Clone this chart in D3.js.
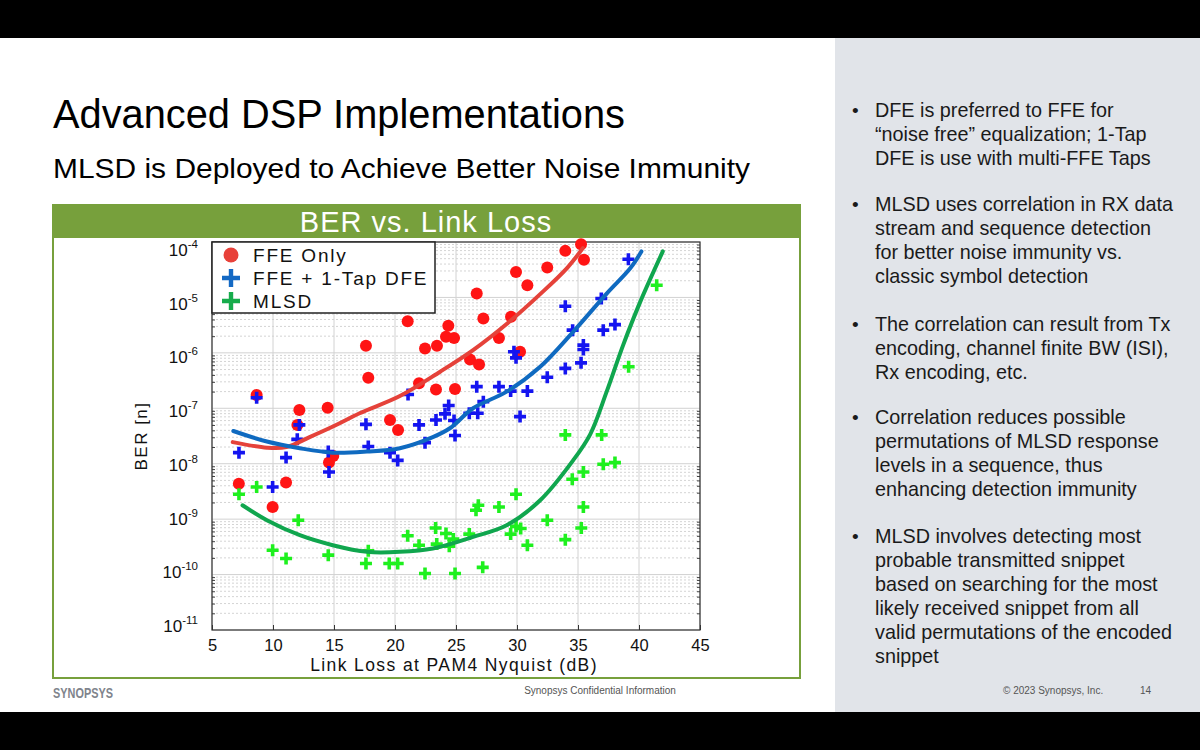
<!DOCTYPE html>
<html>
<head>
<meta charset="utf-8">
<script src="https://cdn.jsdelivr.net/npm/d3@7"></script>
<style>
	body { margin: 0; background: #000; }
	svg { display: block; font-family: 'Liberation Sans', Arial, sans-serif; }
</style>
</head>
<body>
<svg id="slide" width="1200" height="750"></svg>
<script>
// Measured points, [link loss dB, log10(BER)]
const ffeOnly = [
	[ 7.2, -8.36 ], [ 8.66, -6.76 ], [ 9.97, -8.78 ], [ 11.07, -8.34 ], [ 12.0, -7.30 ],
	[ 12.16, -7.03 ], [ 14.48, -6.99 ], [ 14.59, -7.98 ], [ 14.94, -7.86 ], [ 17.62, -5.87 ],
	[ 17.81, -6.45 ], [ 19.59, -7.21 ], [ 20.25, -7.39 ], [ 21.04, -5.43 ], [ 21.97, -6.55 ],
	[ 22.46, -5.92 ], [ 23.36, -6.66 ], [ 23.44, -5.87 ], [ 24.18, -5.71 ], [ 24.37, -5.51 ],
	[ 24.84, -5.73 ], [ 24.92, -6.65 ], [ 26.15, -6.12 ], [ 26.70, -4.93 ], [ 26.89, -6.21 ],
	[ 27.24, -5.38 ], [ 28.52, -5.73 ], [ 29.51, -5.35 ], [ 29.92, -4.54 ], [ 30.25, -5.98 ],
	[ 30.85, -4.78 ], [ 32.48, -4.46 ], [ 33.96, -4.16 ], [ 35.25, -4.04 ], [ 35.49, -4.32 ],
];
const ffeDfe = [
	[ 7.21, -7.80 ], [ 8.66, -6.81 ], [ 9.97, -8.42 ], [ 11.07, -7.89 ], [ 11.99, -7.56 ],
	[ 12.16, -7.30 ], [ 14.53, -7.78 ], [ 14.59, -8.15 ], [ 17.62, -7.29 ], [ 17.81, -7.69 ],
	[ 19.59, -7.80 ], [ 20.22, -7.94 ], [ 21.07, -6.75 ], [ 21.97, -7.30 ], [ 22.46, -7.62 ],
	[ 23.36, -7.21 ], [ 24.10, -7.10 ], [ 24.40, -6.95 ], [ 24.84, -7.22 ], [ 24.92, -7.49 ],
	[ 26.09, -7.09 ], [ 26.70, -6.61 ], [ 26.78, -7.09 ], [ 27.24, -6.88 ], [ 28.52, -6.61 ],
	[ 29.48, -6.69 ], [ 29.75, -5.98 ], [ 29.92, -6.09 ], [ 30.25, -7.15 ], [ 30.85, -6.69 ],
	[ 32.48, -6.44 ], [ 33.96, -6.28 ], [ 33.96, -5.16 ], [ 34.56, -5.59 ], [ 35.25, -6.18 ],
	[ 35.44, -5.86 ], [ 35.44, -5.94 ], [ 36.91, -5.02 ], [ 37.07, -5.59 ], [ 38.03, -5.49 ],
	[ 39.13, -4.31 ],
];
const mlsd = [
	[ 7.21, -8.55 ], [ 8.66, -8.42 ], [ 9.97, -9.56 ], [ 11.07, -9.71 ], [ 12.07, -9.02 ],
	[ 14.53, -9.65 ], [ 17.81, -9.57 ], [ 17.62, -9.80 ], [ 19.53, -9.80 ], [ 20.22, -9.80 ],
	[ 21.04, -9.30 ], [ 21.97, -9.47 ], [ 22.46, -9.98 ], [ 23.33, -9.16 ], [ 23.42, -9.45 ],
	[ 24.18, -9.26 ], [ 24.45, -9.49 ], [ 24.78, -9.36 ], [ 24.92, -9.98 ], [ 26.09, -9.27 ],
	[ 26.64, -8.84 ], [ 26.83, -8.75 ], [ 27.19, -9.87 ], [ 28.52, -8.78 ], [ 29.48, -9.27 ],
	[ 29.92, -8.55 ], [ 29.92, -9.13 ], [ 30.30, -9.17 ], [ 30.85, -9.47 ], [ 32.48, -9.02 ],
	[ 33.96, -9.37 ], [ 33.96, -7.48 ], [ 34.53, -8.28 ], [ 35.44, -8.15 ], [ 35.44, -8.78 ],
	[ 35.27, -9.16 ], [ 36.94, -7.48 ], [ 37.07, -8.01 ], [ 38.03, -7.98 ], [ 39.15, -6.25 ],
	[ 41.45, -4.78 ],
];

// Fitted trend lines
const ffeOnlyFit = [
	[ 6.7, -7.61 ], [ 9.5, -7.71 ], [ 11.1, -7.70 ], [ 13.0, -7.52 ], [ 15.0, -7.32 ],
	[ 17.1, -7.09 ], [ 20.4, -6.78 ], [ 23.7, -6.34 ], [ 26.4, -5.95 ], [ 29.2, -5.47 ],
	[ 31.9, -4.94 ], [ 34.1, -4.47 ], [ 35.4, -4.11 ],
];
const ffeDfeFit = [
	[ 6.75, -7.41 ], [ 9.5, -7.60 ], [ 12.2, -7.72 ], [ 14.9, -7.80 ], [ 17.7, -7.78 ],
	[ 20.4, -7.72 ], [ 23.1, -7.52 ], [ 24.5, -7.36 ], [ 26.4, -7.00 ], [ 29.15, -6.70 ],
	[ 31.9, -6.25 ], [ 34.6, -5.62 ], [ 37.35, -4.93 ], [ 39.3, -4.47 ], [ 40.2, -4.17 ],
];
const mlsdFit = [
	[ 7.5, -8.75 ], [ 9.5, -9.02 ], [ 12.2, -9.29 ], [ 14.9, -9.47 ], [ 17.7, -9.59 ],
	[ 20.4, -9.59 ], [ 23.1, -9.53 ], [ 26.4, -9.32 ], [ 29.15, -9.11 ], [ 31.9, -8.66 ],
	[ 34.6, -7.94 ], [ 36.0, -7.47 ], [ 37.35, -6.70 ], [ 38.7, -5.86 ], [ 40.1, -5.08 ],
	[ 41.95, -4.17 ],
];

const xTicks = [ 5, 10, 15, 20, 25, 30, 35, 40, 45 ];
const yExponents = [ -4, -5, -6, -7, -8, -9, -10, -11 ];
const legendLabels = [ 'FFE Only', 'FFE + 1-Tap DFE', 'MLSD' ];

const bullets = [
	[ 'DFE is preferred to FFE for', '\u201cnoise free\u201d equalization; 1-Tap', 'DFE is use with multi-FFE Taps' ],
	[ 'MLSD uses correlation in RX data', 'stream and sequence detection', 'for better noise immunity vs.', 'classic symbol detection' ],
	[ 'The correlation can result from Tx', 'encoding, channel finite BW (ISI),', 'Rx encoding, etc.' ],
	[ 'Correlation reduces possible', 'permutations of MLSD response', 'levels in a sequence, thus', 'enhancing detection immunity' ],
	[ 'MLSD involves detecting most', 'probable transmitted snippet', 'based on searching for the most', 'likely received snippet from all', 'valid permutations of the encoded', 'snippet' ],
];
const bulletTops = [ 117, 211, 331, 424, 543 ];

const svg = d3.select( '#slide' );

// Slide background
svg.append( 'rect' ).attr( 'width', 1200 ).attr( 'height', 750 ).attr( 'fill', '#000' );
svg.append( 'rect' ).attr( 'y', 38 ).attr( 'width', 1200 ).attr( 'height', 674 ).attr( 'fill', '#fff' );
svg.append( 'rect' ).attr( 'x', 835 ).attr( 'y', 38 ).attr( 'width', 365 ).attr( 'height', 674 ).attr( 'fill', '#e1e4e9' );

svg.append( 'text' ).attr( 'x', 53 ).attr( 'y', 128 )
	.attr( 'font-size', 40 ).attr( 'fill', '#000' )
	.attr( 'textLength', 572 ).attr( 'lengthAdjust', 'spacingAndGlyphs' )
	.text( 'Advanced DSP Implementations' );
svg.append( 'text' ).attr( 'x', 53 ).attr( 'y', 178 )
	.attr( 'font-size', 28.5 ).attr( 'fill', '#000' )
	.attr( 'textLength', 697 ).attr( 'lengthAdjust', 'spacingAndGlyphs' )
	.text( 'MLSD is Deployed to Achieve Better Noise Immunity' );

// Bullet list on the right
bullets.forEach( ( lines, i ) => {
	svg.append( 'text' ).attr( 'x', 852 ).attr( 'y', bulletTops[ i ] )
		.attr( 'font-size', 19 ).attr( 'fill', '#1a1a1a' ).text( '\u2022' );
	lines.forEach( ( line, j ) => {
		svg.append( 'text' ).attr( 'x', 875 ).attr( 'y', bulletTops[ i ] + j * 24 )
			.attr( 'font-size', 19.8 ).attr( 'fill', '#1a1a1a' ).text( line );
	} );
} );

// Footer
svg.append( 'text' ).attr( 'x', 53 ).attr( 'y', 698 )
	.attr( 'font-size', 15 ).attr( 'font-weight', 'bold' ).attr( 'fill', '#80848c' )
	.attr( 'textLength', 60 ).attr( 'lengthAdjust', 'spacingAndGlyphs' )
	.text( 'SYNOPSYS' );
svg.append( 'text' ).attr( 'x', 600 ).attr( 'y', 694 ).attr( 'text-anchor', 'middle' )
	.attr( 'font-size', 10 ).attr( 'fill', '#555' ).text( 'Synopsys Confidential Information' );
svg.append( 'text' ).attr( 'x', 1003 ).attr( 'y', 694 )
	.attr( 'font-size', 10 ).attr( 'fill', '#555' ).text( '\u00a9 2023 Synopsys, Inc.' );
svg.append( 'text' ).attr( 'x', 1140 ).attr( 'y', 694 )
	.attr( 'font-size', 10 ).attr( 'fill', '#555' ).text( '14' );

// Chart frame
const green = '#77a03c';
svg.append( 'rect' ).attr( 'x', 53 ).attr( 'y', 205 ).attr( 'width', 747 ).attr( 'height', 473 )
	.attr( 'fill', '#fff' ).attr( 'stroke', green ).attr( 'stroke-width', 2 );
svg.append( 'rect' ).attr( 'x', 53 ).attr( 'y', 205 ).attr( 'width', 747 ).attr( 'height', 33 )
	.attr( 'fill', green );
svg.append( 'text' ).attr( 'x', 426 ).attr( 'y', 232 ).attr( 'text-anchor', 'middle' )
	.attr( 'font-size', 29 ).attr( 'fill', '#fff' ).attr( 'letter-spacing', 1 )
	.text( 'BER vs. Link Loss' );

// Plot area
const plot = { left: 212, right: 700, top: 242, bottom: 630 };
const x = d3.scaleLinear().domain( [ 5, 45 ] ).range( [ plot.left, plot.right ] );
const y = d3.scaleLinear().domain( [ -11, -4 ] ).range( [ plot.bottom, plot.top ] );
// the tick labels in the source sit on a slightly tighter spacing than the grid
const yLabelPos = d3.scaleLinear().domain( [ -11, -4 ] ).range( [ 632, 256 ] );

const g = svg.append( 'g' );

// Minor horizontal grid (log minors), dotted
const minors = [];
for ( let e = -11; e < -4; e++ ) {
	for ( let m = 2; m <= 9; m++ ) {
		minors.push( e + Math.log10( m ) );
	}
}
g.selectAll( '.minor' ).data( minors ).enter().append( 'line' )
	.attr( 'x1', plot.left ).attr( 'x2', plot.right )
	.attr( 'y1', ( d ) => y( d ) ).attr( 'y2', ( d ) => y( d ) )
	.attr( 'stroke', '#d4d4d4' ).attr( 'stroke-width', 1 ).attr( 'stroke-dasharray', '2,2' );

// Major grid
g.selectAll( '.vgrid' ).data( xTicks ).enter().append( 'line' )
	.attr( 'x1', ( d ) => x( d ) ).attr( 'x2', ( d ) => x( d ) )
	.attr( 'y1', plot.top ).attr( 'y2', plot.bottom )
	.attr( 'stroke', '#d2d2d2' ).attr( 'stroke-width', 1 );
g.selectAll( '.hgrid' ).data( yExponents ).enter().append( 'line' )
	.attr( 'x1', plot.left ).attr( 'x2', plot.right )
	.attr( 'y1', ( d ) => y( d ) ).attr( 'y2', ( d ) => y( d ) )
	.attr( 'stroke', '#d2d2d2' ).attr( 'stroke-width', 1 );

// Axes
const xAxis = g.append( 'g' ).attr( 'transform', `translate(0,${ plot.bottom })` )
	.call( d3.axisBottom( x ).tickValues( xTicks ).tickSize( -5 ).tickPadding( 9 ).tickFormat( d3.format( 'd' ) ) );
xAxis.select( '.domain' ).remove();
xAxis.selectAll( 'line' ).attr( 'stroke', '#333' );
xAxis.selectAll( 'text' ).attr( 'font-size', 16.5 ).attr( 'fill', '#111' )
	.attr( 'font-family', "'Liberation Sans', Arial, sans-serif" );

const yAxisR = g.append( 'g' ).attr( 'transform', `translate(${ plot.right },0)` )
	.call( d3.axisLeft( y ).tickValues( minors ).tickSize( 3 ).tickFormat( '' ) );
yAxisR.select( '.domain' ).remove();
yAxisR.selectAll( 'line' ).attr( 'stroke', '#444' );
const yAxisL = g.append( 'g' ).attr( 'transform', `translate(${ plot.left },0)` )
	.call( d3.axisRight( y ).tickValues( minors ).tickSize( 3 ).tickFormat( '' ) );
yAxisL.select( '.domain' ).remove();
yAxisL.selectAll( 'line' ).attr( 'stroke', '#444' );

// Y tick labels with superscript exponents
const yLabels = g.selectAll( '.ylab' ).data( yExponents ).enter().append( 'text' )
	.attr( 'x', 198 ).attr( 'y', ( d ) => yLabelPos( d ) )
	.attr( 'text-anchor', 'end' ).attr( 'fill', '#111' ).attr( 'font-size', 17 );
yLabels.append( 'tspan' ).text( '10' );
yLabels.append( 'tspan' ).attr( 'font-size', 11.5 ).attr( 'dy', -8 ).text( ( d ) => d );

// Box
g.append( 'rect' ).attr( 'x', plot.left ).attr( 'y', plot.top )
	.attr( 'width', plot.right - plot.left ).attr( 'height', plot.bottom - plot.top )
	.attr( 'fill', 'none' ).attr( 'stroke', '#333' ).attr( 'stroke-width', 1.2 );

// Axis titles
svg.append( 'text' ).attr( 'x', 454 ).attr( 'y', 671 ).attr( 'text-anchor', 'middle' )
	.attr( 'font-size', 17.5 ).attr( 'letter-spacing', 1.4 ).attr( 'fill', '#111' )
	.text( 'Link Loss at PAM4 Nyquist (dB)' );
svg.append( 'text' ).attr( 'transform', 'translate(147,436) rotate(-90)' ).attr( 'text-anchor', 'middle' )
	.attr( 'font-size', 17 ).attr( 'letter-spacing', 1.5 ).attr( 'fill', '#111' )
	.text( 'BER [n]' );

// Markers
const plusPath = ( s, w ) => `M${ -s },${ -w }H${ -w }V${ -s }H${ w }V${ -w }H${ s }V${ w }H${ w }V${ s }H${ -w }V${ w }H${ -s }Z`;

g.selectAll( '.ffe' ).data( ffeOnly ).enter().append( 'circle' )
	.attr( 'cx', ( d ) => x( d[ 0 ] ) ).attr( 'cy', ( d ) => y( d[ 1 ] ) )
	.attr( 'r', 6 ).attr( 'fill', '#ff1414' );
g.selectAll( '.dfe' ).data( ffeDfe ).enter().append( 'path' )
	.attr( 'transform', ( d ) => `translate(${ x( d[ 0 ] ) },${ y( d[ 1 ] ) })` )
	.attr( 'd', plusPath( 6, 1.8 ) ).attr( 'fill', '#1414f0' );
g.selectAll( '.mlsd' ).data( mlsd ).enter().append( 'path' )
	.attr( 'transform', ( d ) => `translate(${ x( d[ 0 ] ) },${ y( d[ 1 ] ) })` )
	.attr( 'd', plusPath( 6, 1.8 ) ).attr( 'fill', '#1ef01e' );

// Trend lines
const line = d3.line()
	.x( ( d ) => x( d[ 0 ] ) )
	.y( ( d ) => y( d[ 1 ] ) )
	.curve( d3.curveCatmullRom );
[ [ ffeOnlyFit, '#e5423a' ], [ ffeDfeFit, '#0f6ac0' ], [ mlsdFit, '#10a64e' ] ].forEach( ( [ data, color ] ) => {
	g.append( 'path' ).datum( data ).attr( 'd', line )
		.attr( 'fill', 'none' ).attr( 'stroke', color ).attr( 'stroke-width', 4 )
		.attr( 'stroke-linecap', 'round' );
} );

// Legend
const legend = svg.append( 'g' );
legend.append( 'rect' ).attr( 'x', 212 ).attr( 'y', 242 ).attr( 'width', 223 ).attr( 'height', 71 )
	.attr( 'fill', '#fff' ).attr( 'stroke', '#222' ).attr( 'stroke-width', 1.5 );
const legendMarks = [ '#e8413a', '#1469c4', '#17ac4c' ];
legendLabels.forEach( ( label, i ) => {
	const cy = 255 + i * 23;
	if ( i === 0 ) {
		legend.append( 'circle' ).attr( 'cx', 231 ).attr( 'cy', cy ).attr( 'r', 7.5 ).attr( 'fill', legendMarks[ i ] );
	} else {
		legend.append( 'path' ).attr( 'transform', `translate(231,${ cy })` )
			.attr( 'd', plusPath( 9, 2.2 ) ).attr( 'fill', legendMarks[ i ] );
	}
	legend.append( 'text' ).attr( 'x', 253 ).attr( 'y', cy + 7 )
		.attr( 'font-size', 19 ).attr( 'letter-spacing', 1.8 ).attr( 'fill', '#111' )
		.text( label );
} );
</script>
</body>
</html>
